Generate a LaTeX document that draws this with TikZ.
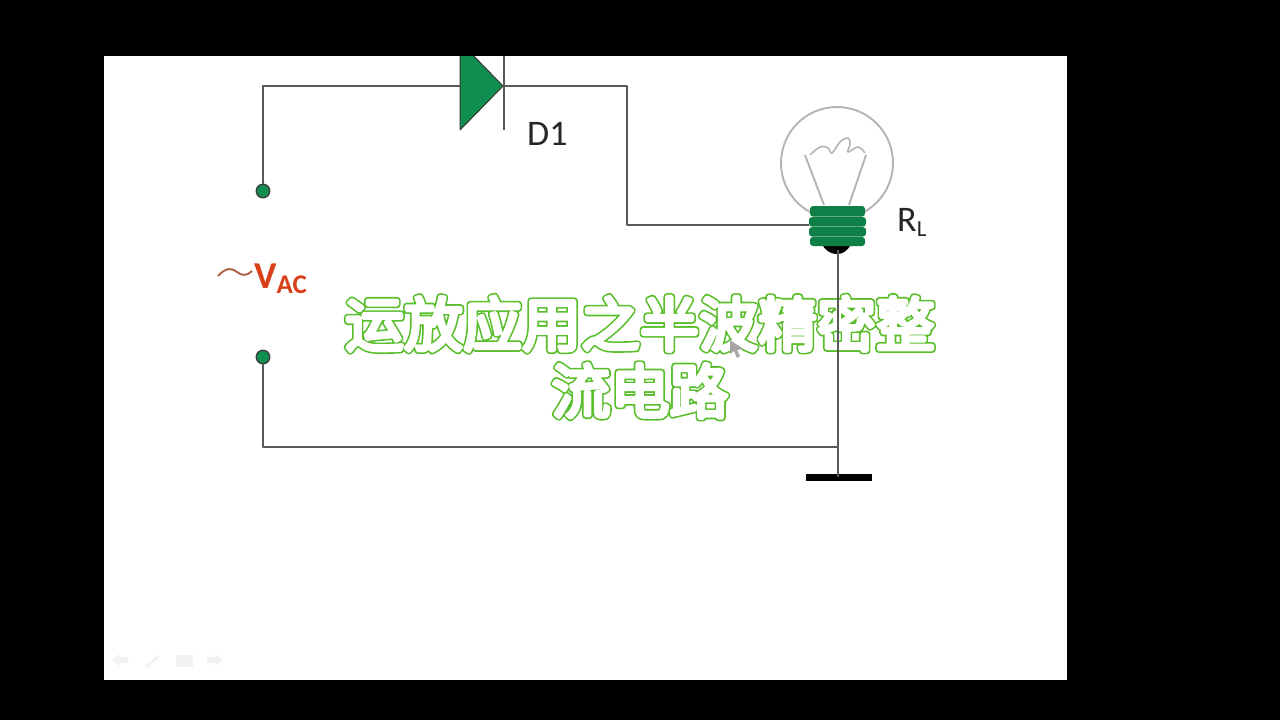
\documentclass[tikz,border=0pt]{standalone}
\usepackage{fontspec}
\setmainfont{Carlito}
\newfontfamily\cjkouter[FakeBold=12]{Noto Sans CJK SC}
\newfontfamily\cjkinner[FakeBold=6.5]{Noto Sans CJK SC}
\definecolor{wiregray}{HTML}{595959}
\definecolor{diodegreen}{HTML}{0F8F50}
\definecolor{basegreen}{HTML}{0E7F46}
\definecolor{titlegreen}{HTML}{58BE2A}
\definecolor{vacred}{HTML}{D9401A}
\definecolor{bulbgray}{HTML}{B4B4B4}
\definecolor{iconfaint}{HTML}{F2F2F2}
\tikzset{
  wire/.style={draw=wiregray,line width=1.9pt},
  terminal/.style={circle,draw=wiregray!70!black,fill=diodegreen,line width=1.4pt,minimum size=13.5pt,inner sep=0pt},
  bulbline/.style={draw=bulbgray,line width=1.9pt},
  labeltext/.style={font=\fontsize{36}{38}\selectfont,text=black!85,inner sep=0pt},
  titlelayer/.style={align=center,inner sep=0pt,line join=round},
}
\begin{document}
\begin{tikzpicture}[x=1pt,y=-1pt,line join=round]
\useasboundingbox (0,0) rectangle (1280,720);
\fill[black] (0,0) rectangle (1280,720);
\fill[white] (104,56) rectangle (1067,680);
% faint toolbar icons
\fill[iconfaint] (112,660) -- (120,654) -- (120,657) -- (128,657) -- (128,663) -- (120,663) -- (120,666) -- cycle;
\draw[iconfaint,line width=2.5pt] (146,667) -- (159,656);
\fill[iconfaint] (176,655) rectangle (193,667);
\fill[iconfaint] (223,660) -- (215,654) -- (215,657) -- (207,657) -- (207,663) -- (215,663) -- (215,666) -- cycle;
% diode
\begin{scope}
\clip (104,56) rectangle (1067,680);
\fill[diodegreen,draw=wiregray!60!black,line width=1pt] (460,42) -- (503,86) -- (460,130) -- cycle;
\end{scope}
\coordinate (anode) at (460,86);
\coordinate (cathode) at (504,86);
\draw[wire] (504,56) -- (504,130);
% terminals
\node[terminal] (topterm) at (263,191) {};
\node[terminal] (botterm) at (263,357) {};
\coordinate (c1) at (263,86);
\coordinate (c2) at (627,86);
\coordinate (c3) at (627,225);
\coordinate (lampin) at (809,225);
\coordinate (c4) at (263,447);
\coordinate (junction) at (838,447);
\coordinate (lampout) at (838,250);
\coordinate (gnd) at (838,477);
\draw[wire] (topterm) -- (c1) -- (anode);
\draw[wire] (cathode) -- (c2) -- (c3) -- (lampin);
\draw[wire] (botterm) -- (c4) -- (junction);
\fill[black] (806,474) rectangle (872,481);
% bulb
\draw[bulbline] (837,163) circle[radius=56];
\draw[bulbline] (805,155) -- (824,205);
\draw[bulbline] (866,155) -- (849,205);
\draw[bulbline,line width=1.6pt] plot[smooth,tension=0.7] coordinates {(810,155) (820,147) (828,148) (832,153) (840,142) (848,138) (850,144) (848,152) (858,147) (865,153)};
\fill[white] (811,207) rectangle (864,222);
\fill[black] (822,244) .. controls (826,252) and (832,254) .. (837,254) .. controls (842,254) and (847,252) .. (851,244) -- cycle;
\fill[basegreen,rounded corners=3pt] (810,206) rectangle (865,216.5);
\fill[basegreen,rounded corners=3pt] (809,217) rectangle (866,226.5);
\fill[basegreen,rounded corners=3pt] (809,227) rectangle (866,236.5);
\fill[basegreen,rounded corners=3pt] (810,237) rectangle (865,246);
% labels
\node[labeltext,anchor=base west] (dlabel) at (527,145) {D1};
\node[labeltext,anchor=base west] (rlabel) at (897,231) {R\raisebox{-5pt}{\fontsize{23}{23}\selectfont L}};
\node[anchor=base west,inner sep=0pt,text=vacred,font=\fontsize{38}{38}\selectfont\bfseries] (vlabel) at (254,288) {V\raisebox{-5pt}{\fontsize{27}{27}\selectfont AC}};
\draw[draw=vacred!55!gray,line width=1.9pt] (218,276) .. controls (226,267) and (232,268) .. (237,272) .. controls (242,276) and (247,276) .. (252,271);
% title
\node[titlelayer,text=titlegreen,font=\fontsize{59}{67}\cjkouter] (titleouter) at (640,357) {运放应用之半波精密整\\流电路};
\node[titlelayer,text=white,font=\fontsize{59}{67}\cjkinner] (titleinner) at (640,357) {运放应用之半波精密整\\流电路};
% the ground lead runs over the title
\draw[wire] (lampout) -- (gnd);
% cursor
\fill[gray!70] (730,340) -- (730,354) -- (734,351) -- (737,358) -- (740,356) -- (737,350) -- (743,349) -- cycle;
\end{tikzpicture}
\end{document}
